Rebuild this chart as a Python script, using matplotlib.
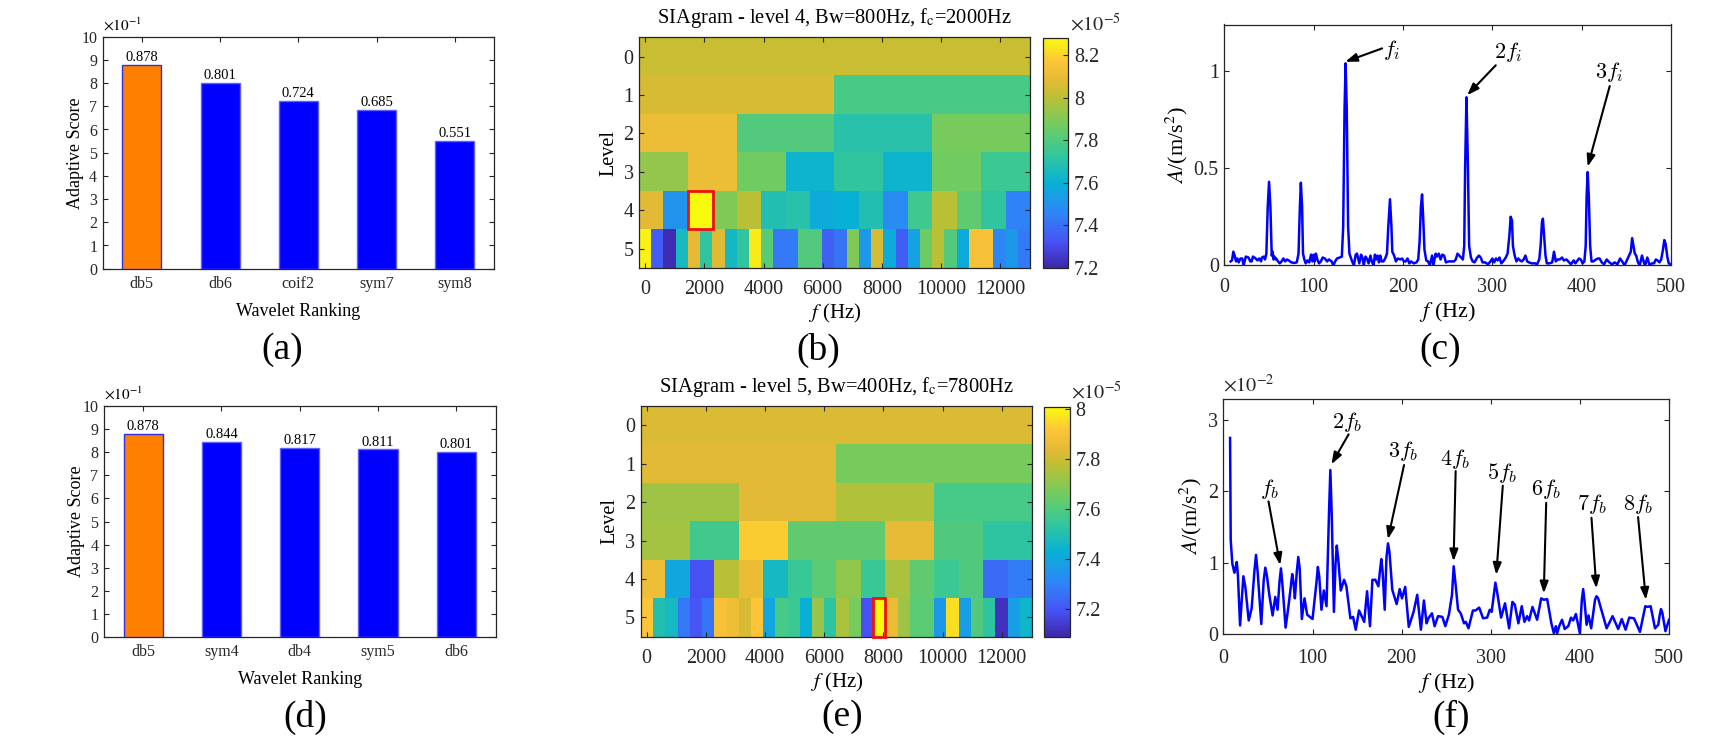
import numpy as np
import matplotlib
matplotlib.use('Agg')
from matplotlib import pyplot as plt
from matplotlib.colors import LinearSegmentedColormap
from matplotlib.patches import Rectangle

plt.rcParams['font.family'] = ['Liberation Serif', 'DejaVu Serif']
plt.rcParams['mathtext.fontset'] = 'stix'

W, H = 1725, 737

# wavelet ranking bars
names_a = ['db5', 'db6', 'coif2', 'sym7', 'sym8']
scores_a = [0.878, 0.801, 0.724, 0.685, 0.551]
names_d = ['db5', 'sym4', 'db4', 'sym5', 'db6']
scores_d = [0.878, 0.844, 0.817, 0.811, 0.801]

# SIAgram levels, units of 1e-5
levels_b = [
    [8.03],
    [8.06, 7.78],
    [8.11, 7.80, 7.70, 7.88],
    [7.93, 8.11, 7.87, 7.62, 7.72, 7.62, 7.87, 7.75],
    [8.08, 7.50, 8.28, 7.90, 8.00, 7.68, 7.70, 7.58, 7.60, 7.68, 7.48, 7.76, 8.00, 7.83, 7.72, 7.45],
    [8.26, 7.35, 7.22, 7.65, 8.09, 7.72, 8.07, 7.64, 7.72, 8.25, 7.82, 7.42, 7.43, 7.80, 7.80, 7.36,
     7.41, 7.90, 7.52, 8.05, 7.58, 7.35, 7.55, 7.86, 8.00, 7.80, 7.58, 8.15, 8.15, 7.46, 7.52, 7.43],
]
levels_e = [
    [7.83],
    [7.84, 7.67],
    [7.73, 7.84, 7.76, 7.58],
    [7.74, 7.57, 7.93, 7.63, 7.63, 7.85, 7.60, 7.53],
    [7.87, 7.40, 7.19, 7.77, 7.86, 7.47, 7.55, 7.62, 7.71, 7.55, 7.75, 7.63, 7.56, 7.60, 7.25, 7.29],
    [7.92, 7.50, 7.47, 7.28, 7.20, 7.27, 7.90, 7.87, 7.82, 7.92, 7.40, 7.58, 7.56, 7.43, 7.72, 7.53,
     7.75, 7.67, 7.19, 8.01, 7.86, 7.73, 7.62, 7.62, 7.36, 7.96, 7.38, 7.60, 7.53, 7.12, 7.38, 7.45],
]

# envelope spectrum (c)
freq_c = [7, 8.5, 10, 11.5, 13, 14.5, 16, 18, 20, 21.5, 24, 27, 29, 30.5, 32, 35, 37, 39, 41, 42, 44, 45.5, 47, 48.5,
          50, 51.5, 53, 54, 55, 56, 57.5, 58, 60, 62, 64, 66, 68, 70, 72, 75, 78, 81, 83, 84.5, 85.6, 87, 88, 89.5,
          91, 93, 95, 97, 98.5, 100, 101, 102.5, 104, 106, 108, 110, 112.5, 115, 117, 120, 122, 124, 126, 129, 131.5,
          133, 134.5, 135.7, 137, 138.5, 140, 141.5, 143, 145, 147, 148.5, 150, 151, 153, 154.5, 156, 158, 160, 161.5,
          163.5, 165, 167, 168.5, 170, 171.5, 173, 174.5, 176, 178, 180, 182, 183.5, 185.4, 187, 188, 190, 192, 194,
          197, 199, 201, 203, 205, 207, 209, 212, 215, 217, 218.5, 220, 221.3, 222.5, 224, 226, 228, 230, 232.5, 234,
          236.5, 238, 240, 242, 244, 246, 248, 251, 254, 257, 259, 261, 263, 265, 267, 268.5, 269.5, 271, 272.5, 274,
          276, 278, 280, 283, 285, 287, 289, 292, 295, 298, 300, 302, 304, 306, 308, 310, 312, 315, 317, 319, 320.5,
          322, 323, 325, 327, 329, 331, 333, 335, 337, 339, 341, 344, 348, 350, 352.5, 354, 355.5, 356.6, 358, 359.5,
          361, 364, 367, 369, 371, 373, 375.5, 378, 380, 383, 385, 388, 391, 393, 397, 399, 401, 403, 404.5, 405.5,
          406.7, 408, 409.5, 411, 413, 416, 418, 420, 422.5, 425, 428, 431, 434, 437, 440, 443, 446, 448, 451, 453,
          455, 456.5, 458, 459.5, 461, 463, 465, 467.5, 470, 471, 473.5, 476, 478.5, 481, 483, 485, 487, 489, 491,
          492.5, 494, 496, 497.5, 500]
amp_c = [.02, .025, .07, .05, .02, .035, .015, .035, .035, .0, .045, .04, .02, .02, .045, .035, .025, .035, .02, .04,
         .045, .03, .06, .3, .43, .3, .05, .07, .03, .045, .03, .035, .02, .01, .02, .035, .02, .03, .025, .015, .012,
         .015, .06, .3, .425, .3, .06, .03, .01, .025, .015, .055, .02, .055, .02, .06, .03, .01, .02, .04, .035, .02,
         .03, .02, .0, .02, .035, .04, .045, .2, .8, 1.04, .8, .2, .06, .04, .02, .0, .055, .06, .03, .01, .055, .04,
         .0, .045, .03, .01, .05, .02, .0, .055, .03, .05, .015, .05, .02, .02, .035, .06, .2, .34, .2, .07, .05, .02,
         .035, .03, .035, .02, .02, .035, .01, .02, .01, .015, .03, .12, .3, .365, .25, .08, .025, .02, .0, .05, .0,
         .06, .045, .06, .03, .055, .05, .015, .02, .02, .02, .03, .06, .05, .04, .03, .1, .5, .865, .55, .1, .04, .02,
         .015, .04, .05, .04, .015, .015, .005, .02, .035, .015, .035, .025, .04, .01, .02, .04, .06, .15, .25, .23,
         .1, .05, .02, .035, .025, .02, .03, .05, .02, .015, .01, .01, .005, .03, .1, .22, .24, .15, .05, .01, .01,
         .015, .07, .02, .03, .03, .04, .025, .03, .02, .005, .025, .01, .035, .03, .01, .02, .1, .35, .48, .35, .1,
         .02, .02, .03, .035, .035, .015, .005, .03, .015, .005, .015, .005, .035, .015, .0, .03, .05, .07, .14, .1,
         .06, .05, .015, .0, .05, .01, .0, .04, .0, .01, .01, .03, .025, .015, .03, .08, .13, .11, .04, .01, .005]

# envelope spectrum (f), units of 1e-2
freq_f = [7.5, 8.2, 10, 12.3, 15, 18.7, 22.4, 24.6, 28.4, 31.7, 36.6, 42.5, 47, 51.5, 55.2, 58.2, 60.8, 64.6, 69.8,
          72.8, 77.2, 80.2, 84, 88, 91, 94, 100, 106, 110, 112.7, 115.7, 118.5, 120, 121.5, 124, 127.2, 131.7, 135.4,
          138, 142.5, 145.5, 148.5, 152.2, 158, 161.2, 164.5, 167.2, 170.5, 173.9, 177.2, 181, 184.7, 189.5, 194.4,
          197.8, 200.4, 204, 208, 213.4, 217.5, 221.6, 225, 228, 230, 234, 237, 240.8, 245.7, 249, 253, 256.5, 258.4,
          260.5, 263.3, 266.3, 270, 272, 275, 280, 283, 287, 291.4, 295.9, 298.9, 301, 305.2, 311.6, 316, 320.6, 324.3,
          327, 331, 334.8, 337.8, 340.8, 343, 346.8, 352, 356.6, 359.5, 363.3, 368, 370.8, 373, 374.5, 376.8, 380, 383,
          387, 390, 392.5, 395.5, 400, 403.7, 407.5, 409.7, 412.7, 418.7, 422.5, 430, 436.7, 443, 447, 451.3, 455.4,
          460.7, 467.4, 473.4, 476, 479.4, 484.3, 488, 491, 496, 500]
amp_f = [2.75, 1.32, .99, .86, 1.01, .12, .81, .66, .19, .36, 1.11, .14, .93, .55, .26, .52, .34, .92, .09, .37, .84,
         .5, 1.08, .21, .5, .27, .21, .94, .34, .61, .39, 1.7, 2.3, 1.7, .31, 1.24, .61, .76, .67, .22, .24, .06, .33,
         .17, .6, .11, .76, .76, .67, 1.05, .34, 1.27, .62, .42, .63, .5, .66, .1, .31, .55, .06, .47, .15, .22, .29,
         .11, .25, .24, .11, .27, .55, .95, .7, .34, .29, .15, .17, .08, .33, .33, .37, .22, .23, .34, .31, .72, .23,
         .43, .08, .45, .41, .15, .39, .17, .25, .19, .38, .2, .5, .48, .49, .15, .01, .11, .01, .11, .2, .07, .11, .23,
         .19, .28, .01, .63, .13, .26, .08, .53, .41, .08, .25, .07, .21, .06, .23, .22, .03, .39, .38, .39, .08, .13,
         .35, .04, .2]
# peak flanks of (f), merged into the series above
flank_freq_f = [13.6, 16.3, 20.5, 26.5, 34.8, 38.5, 45.2, 48.8, 63, 66.3, 75.5, 78.7, 82.4, 85.6, 104.4, 107.6, 125.8,
                128.8, 175.8, 178.6, 183, 186.4, 303.5, 307, 402.2, 405.2, 417, 420.5, 489.5, 492.5]
flank_amp_f = [.92, .82, .45, .42, .88, .86, .75, .82, .74, .68, .65, .72, .88, .92, .72, .8, .98, 1.06, .9, .88, 1.08,
               1.14, .56, .6, .48, .46, .48, .5, .26, .3]

# harmonic callouts: label, label position, arrow tail, arrow head
labels_c = ['$f_i$', '$2f_i$', '$3f_i$']
text_c = [(187, 1.108), (318, 1.10), (431, 0.997)]
tail_c = [(176.6, 1.117), (303.8, 1.03), (431.4, 0.923)]
head_c = [(135.3, 1.048), (271.8, 0.876), (406.7, 0.508)]

labels_f = ['$f_b$', '$2f_b$', '$3f_b$', '$4f_b$', '$5f_b$', '$6f_b$', '$7f_b$', '$8f_b$']
text_f = [(51.7, 2.04), (139.4, 2.98), (202.3, 2.56), (260.2, 2.46), (313, 2.26), (362.2, 2.03), (413.5, 1.82), (465.6, 1.82)]
tail_f = [(50.6, 1.86), (140.5, 2.8), (202.7, 2.37), (260.6, 2.285), (313.5, 2.08), (362.2, 1.84), (413, 1.63), (465.3, 1.64)]
head_f = [(63.7, 0.967), (121.2, 2.38), (184.6, 1.33), (258.3, 1.02), (306.2, 0.83), (359.5, 0.57), (418.5, 0.64), (474.1, 0.48)]

parula = LinearSegmentedColormap.from_list('parula', [
    (0.0, (0.2422, 0.1504, 0.6603)),
    (0.11, (0.2810, 0.3228, 0.9579)),
    (0.24, (0.1786, 0.5289, 0.9682)),
    (0.37, (0.0300, 0.6948, 0.8394)),
    (0.5, (0.2161, 0.7843, 0.5923)),
    (0.62, (0.4420, 0.8000, 0.3800)),
    (0.75, (0.7500, 0.7500, 0.2000)),
    (0.82, (0.9000, 0.7300, 0.2100)),
    (0.9, (0.9900, 0.7700, 0.2200)),
    (1.0, (0.9763, 0.9831, 0.0538)),
])

fig = plt.figure(figsize=(W / 100, H / 100), dpi=100)


def px_axes(left, top, right, bottom):
    return fig.add_axes([left / W, 1 - bottom / H, (right - left) / W, (bottom - top) / H])


def px_text(x, y, s, **kw):
    fig.text(x / W, 1 - y / H, s, ha='center', va='center', **kw)


def style(ax, size, pad=4):
    for sp in ax.spines.values():
        sp.set_color('#262626')
        sp.set_linewidth(0.9)
    ax.tick_params(direction='in', length=3.5, width=0.8, top=True, right=True, labelsize=size,
                   colors='#262626', pad=pad)
    ax.tick_params(axis='y', pad=4)


def bars(ax, names, scores):
    x = np.arange(1, len(names) + 1)
    colors = ['#FF8000'] + ['#0000FF'] * (len(names) - 1)
    edges = ['#3030E0'] + ['#6060FF'] * (len(names) - 1)
    b = ax.bar(x, np.array(scores) * 10, width=0.5, color=colors, edgecolor=edges, linewidth=1, zorder=3)
    for r, s in zip(b, scores):
        ax.text(r.get_x() + r.get_width() / 2, s * 10 + 0.03, f'{s:.3f}', ha='center', va='bottom', fontsize=10.5)
    ax.set_xlim(0.5, 5.5)
    ax.set_ylim(0, 10)
    ax.set_xticks(x, names)
    ax.set_yticks(range(11))
    style(ax, 11.5, pad=5)
    ax.set_xlabel('Wavelet Ranking', fontsize=13, labelpad=8)
    ax.set_ylabel('Adaptive Score', fontsize=13, labelpad=-2)
    ax.text(0.0, 1.012, r'$\times 10^{-1}$', transform=ax.transAxes, fontsize=11, ha='left', va='bottom')


def siagram(ax, cax, levels, vmin, vmax, ticks, pick, title):
    grid = np.array([np.repeat(row, 32 // len(row)) for row in levels])
    x0, x1 = -203, 13015
    im = ax.imshow(grid, cmap=parula, vmin=vmin, vmax=vmax, aspect='auto', interpolation='nearest',
                   extent=[x0, x1, 5.5, -0.5])
    lev, idx = pick
    cw = (x1 - x0) / len(levels[lev])
    ax.add_patch(Rectangle((x0 + idx * cw, lev - 0.5), cw, 1, fill=False, edgecolor='#F01010', linewidth=2,
                           clip_on=False, zorder=4))
    ax.set_xticks(range(0, 12001, 2000))
    ax.set_yticks(range(6))
    style(ax, 14.5, pad=9)
    ax.set_xlabel('$f$ (Hz)', fontsize=15, labelpad=2)
    ax.set_ylabel('Level', fontsize=14.5, labelpad=4)
    ax.set_title(title, fontsize=14.8, pad=10)
    cb = fig.colorbar(im, cax=cax, ticks=ticks)
    cb.ax.set_yticklabels([f'{t:g}' for t in ticks])
    cb.ax.tick_params(direction='in', length=3.5, width=0.8, labelsize=14.5, colors='#262626', pad=4)
    cb.outline.set_edgecolor('#262626')
    cb.outline.set_linewidth(0.9)
    cax.text(1.05, 1.01, r'$\times 10^{-5}$', transform=cax.transAxes, fontsize=14.5, ha='left', va='bottom',
             color='#262626')


def spectrum(ax, freq, amp, ymax, yticks, labels, text, tail, head, pad=9):
    ax.plot(freq, amp, color='#0000FF', linewidth=1.8, solid_joinstyle='round')
    ax.set_xlim(0, 500)
    ax.set_ylim(0, ymax)
    ax.set_xticks(range(0, 501, 100))
    ax.set_yticks(yticks)
    ax.set_yticklabels([f'{t:g}' for t in yticks])
    style(ax, 14.5, pad=pad)
    ax.set_xlabel('$f$ (Hz)', fontsize=16, labelpad=2)
    ax.set_ylabel(r'$A$/(m/s$^2$)', fontsize=16, labelpad=3)
    for s, t, a, h in zip(labels, text, tail, head):
        ax.annotate('', xy=h, xytext=a, arrowprops=dict(arrowstyle='-|>,head_width=0.25,head_length=0.7',
                                                        color='black', lw=1.5, shrinkA=0, shrinkB=0))
        ax.text(t[0], t[1], s, fontsize=16, ha='center', va='center', math_fontfamily='cm')


ax_a = px_axes(102.7, 36.7, 494, 268.7)
bars(ax_a, names_a, scores_a)
ax_d = px_axes(104, 405.7, 495.5, 637.3)
bars(ax_d, names_d, scores_d)

ax_b = px_axes(639.3, 37.3, 1030, 267.7)
cax_b = px_axes(1042.7, 38, 1068.3, 267.7)
siagram(ax_b, cax_b, levels_b, 7.2, 8.28, [7.2, 7.4, 7.6, 7.8, 8, 8.2], (4, 2),
        r'SIAgram - level 4, Bw=800Hz, f$_{\mathrm{c}}$=2000Hz')
ax_e = px_axes(640.7, 406, 1031.7, 636.7)
cax_e = px_axes(1044, 406.7, 1070, 636.7)
siagram(ax_e, cax_e, levels_e, 7.09, 8.01, [7.2, 7.4, 7.6, 7.8, 8], (5, 19),
        r'SIAgram - level 5, Bw=400Hz, f$_{\mathrm{c}}$=7800Hz')

ax_c = px_axes(1224.4, 24.5, 1671, 265.3)
spectrum(ax_c, freq_c, amp_c, 1.24, [0, 0.5, 1], labels_c, text_c, tail_c, head_c)

order_f = np.argsort(freq_f + flank_freq_f)
all_freq_f = np.array(freq_f + flank_freq_f)[order_f]
all_amp_f = np.array(amp_f + flank_amp_f)[order_f]
ax_f = px_axes(1223.4, 398.7, 1669, 634)
spectrum(ax_f, all_freq_f, all_amp_f, 3.3, [0, 1, 2, 3], labels_f, text_f, tail_f, head_f, pad=11)
ax_f.text(0.0, 1.01, r'$\times 10^{-2}$', transform=ax_f.transAxes, fontsize=14.5, ha='left', va='bottom',
          color='#262626')

for s, x, y in [('(a)', 282, 350), ('(b)', 818, 350), ('(c)', 1440, 350),
                ('(d)', 305, 717), ('(e)', 842, 717), ('(f)', 1451, 717)]:
    px_text(x, y, s, fontsize=27)

fig.savefig('out.png', dpi=100)
